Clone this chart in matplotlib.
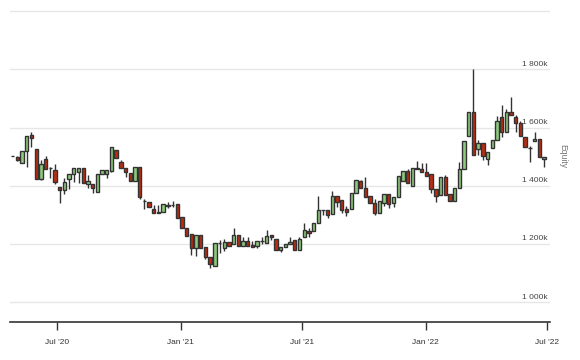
import matplotlib
matplotlib.use("Agg")
import matplotlib.pyplot as plt
import matplotlib.dates as mdates
import pandas as pd
import numpy as np

plt.rcParams['font.family'] = ['Liberation Sans', 'DejaVu Sans']

start_date = "2020-04-26"
n_weeks = 114

opens = [1503, 1500, 1480, 1518, 1575, 1527, 1424, 1493, 1462, 1455,
         1397, 1386, 1424, 1441, 1448, 1462, 1407, 1407, 1379, 1441,
         1441, 1451, 1523, 1482, 1462, 1445, 1417, 1465, 1349, 1345,
         1321, 1309, 1311, 1335, 1335, 1338, 1294, 1256, 1235, 1187,
         1232, 1191, 1156, 1126, 1204, 1187, 1208, 1201, 1232, 1194,
         1211, 1198, 1194, 1211, 1204, 1232, 1218, 1180, 1191, 1201,
         1215, 1180, 1225, 1246, 1246, 1273, 1318, 1318, 1304, 1366,
         1352, 1321, 1321, 1376, 1417, 1393, 1366, 1342, 1307, 1342,
         1373, 1342, 1362, 1417, 1451, 1400, 1462, 1457, 1448, 1441,
         1390, 1369, 1431, 1373, 1349, 1393, 1458, 1572, 1654, 1527,
         1548, 1493, 1530, 1558, 1637, 1585, 1654, 1637, 1616, 1568,
         1530, 1554, 1561, 1493]
closes = [1503, 1488, 1518, 1572, 1564, 1424, 1475, 1458, 1460, 1414,
          1386, 1414, 1441, 1462, 1462, 1410, 1417, 1393, 1441, 1455,
          1455, 1534, 1496, 1462, 1448, 1417, 1465, 1362, 1347, 1328,
          1307, 1307, 1338, 1330, 1334, 1290, 1256, 1228, 1187, 1232,
          1187, 1156, 1132, 1204, 1204, 1208, 1194, 1232, 1194, 1211,
          1194, 1191, 1211, 1211, 1228, 1225, 1180, 1191, 1201, 1208,
          1180, 1218, 1249, 1239, 1273, 1318, 1318, 1301, 1366, 1345,
          1318, 1311, 1376, 1421, 1393, 1362, 1342, 1307, 1349, 1373,
          1338, 1362, 1434, 1451, 1410, 1462, 1457, 1448, 1434, 1390,
          1366, 1431, 1369, 1349, 1393, 1458, 1554, 1654, 1506, 1548,
          1503, 1517, 1558, 1623, 1585, 1654, 1644, 1616, 1572, 1534,
          1530, 1561, 1499, 1499]
highs = [1504, 1502, 1520, 1572, 1585, 1527, 1489, 1503, 1465, 1475,
         1397, 1427, 1441, 1462, 1462, 1462, 1438, 1407, 1441, 1455,
         1455, 1534, 1523, 1489, 1462, 1445, 1465, 1465, 1355, 1345,
         1335, 1335, 1338, 1345, 1349, 1338, 1294, 1256, 1235, 1232,
         1232, 1191, 1156, 1204, 1215, 1218, 1208, 1256, 1232, 1225,
         1225, 1211, 1211, 1225, 1249, 1232, 1218, 1191, 1201, 1225,
         1215, 1225, 1273, 1256, 1273, 1366, 1318, 1318, 1383, 1366,
         1352, 1331, 1376, 1421, 1421, 1431, 1366, 1355, 1349, 1373,
         1373, 1362, 1434, 1451, 1458, 1462, 1486, 1479, 1479, 1441,
         1390, 1431, 1438, 1373, 1393, 1482, 1554, 1654, 1801, 1558,
         1548, 1517, 1558, 1640, 1678, 1664, 1705, 1644, 1623, 1568,
         1537, 1585, 1561, 1499]
lows = [1502, 1486, 1477, 1463, 1534, 1424, 1421, 1458, 1427, 1407,
        1342, 1373, 1390, 1414, 1410, 1410, 1393, 1376, 1379, 1441,
        1427, 1448, 1496, 1462, 1431, 1417, 1417, 1355, 1321, 1328,
        1307, 1306, 1311, 1325, 1328, 1290, 1256, 1228, 1163, 1160,
        1187, 1150, 1119, 1126, 1170, 1177, 1194, 1201, 1194, 1194,
        1194, 1191, 1187, 1201, 1204, 1215, 1180, 1174, 1191, 1201,
        1180, 1180, 1225, 1225, 1246, 1273, 1301, 1290, 1304, 1328,
        1307, 1297, 1321, 1376, 1393, 1362, 1342, 1301, 1307, 1331,
        1325, 1328, 1362, 1417, 1410, 1400, 1457, 1448, 1434, 1376,
        1345, 1369, 1369, 1349, 1349, 1393, 1458, 1572, 1506, 1506,
        1489, 1472, 1530, 1558, 1568, 1585, 1644, 1585, 1572, 1534,
        1482, 1554, 1499, 1463]

y_ticks = [1000, 1200, 1400, 1600, 1800]
y_tick_labels = ["1 000k", "1 200k", "1 400k", "1 600k", "1 800k"]
x_ticks = ["2020-07-01", "2021-01-01", "2021-07-01", "2022-01-01", "2022-07-01"]
x_tick_labels = ["Jul '20", "Jan '21", "Jul '21", "Jan '22", "Jul '22"]
axis_title = "Equity"

UP = "#8fca7c"
DOWN = "#c02a0d"
EDGE = "#333333"

dates = pd.date_range(start_date, periods=n_weeks, freq="7D")
x = mdates.date2num(dates.to_pydatetime())
o = np.array(opens, float)
c = np.array(closes, float)
h = np.array(highs, float)
l = np.array(lows, float)

fig = plt.figure(figsize=(5.8, 3.6), dpi=100)
ax = fig.add_axes([10/580, 38/360, 540/580, 312/360])

# grid lines
for v in y_ticks + [2000]:
    ax.axhline(v, color="#e6e6e6", lw=1, zorder=0)

ax.vlines(x, l, h, color=EDGE, lw=1, zorder=2)
colors = [UP if cc > oo else DOWN for oo, cc in zip(o, c)]
ax.bar(x, np.abs(c - o), bottom=np.minimum(o, c), width=5.0,
       color=colors, edgecolor=EDGE, linewidth=1, zorder=3)

ax.set_ylim(933, 2003)
ax.set_xlim(mdates.date2num(pd.Timestamp("2020-04-22")),
            mdates.date2num(pd.Timestamp("2022-07-05")))

for sp in ["top", "left", "right"]:
    ax.spines[sp].set_visible(False)
ax.spines["bottom"].set_color("#333333")
ax.spines["bottom"].set_linewidth(1.2)

ax.set_yticks([])
ax.set_xticks(mdates.date2num(pd.to_datetime(x_ticks).to_pydatetime()))
ax.set_xticklabels(x_tick_labels, fontsize=6, color="#333333")
ax.tick_params(axis="x", length=6, width=1, color="#333333", pad=6)

for v, lab in zip(y_ticks, y_tick_labels):
    ax.annotate(lab, xy=(1, v), xycoords=("axes fraction", "data"),
                xytext=(-1.5, 1.2), textcoords="offset points",
                ha="right", va="bottom", fontsize=6, color="#444444")

fig.text(563/580, 1 - 156/360, axis_title, rotation=270, ha="center",
         va="center", fontsize=6.2, color="#777777")

fig.savefig("out.png", dpi=100)
